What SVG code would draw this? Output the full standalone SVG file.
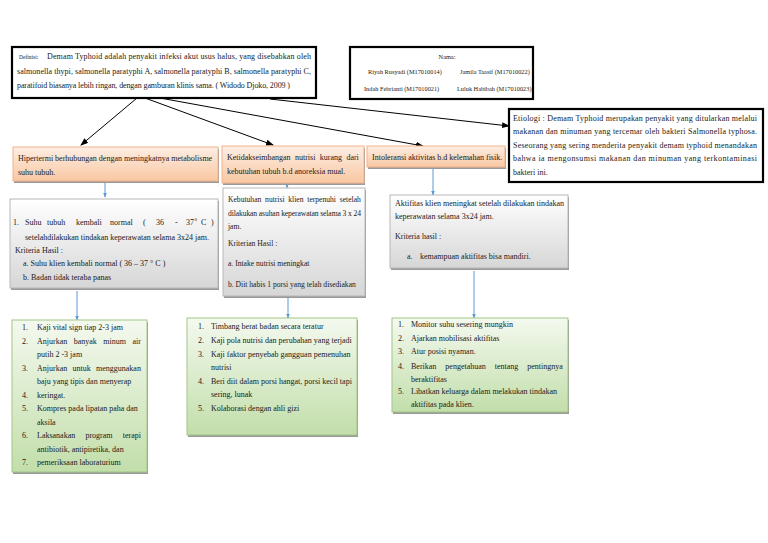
<svg xmlns="http://www.w3.org/2000/svg" width="768" height="543" viewBox="0 0 768 543">
<style>
text{font-family:"Liberation Serif","Times New Roman",serif;font-size:8px;fill:#1a1a1a}
.sm{font-size:6.3px}
.tiny{font-size:5.5px}
.mg{font-size:7.6px}
.bk{fill:#fff;stroke:#000;stroke-width:2.2}
.or{fill:url(#gOr);stroke:#f2b48c;stroke-width:1}
.gr{fill:url(#gGr);stroke:#b8b8b8;stroke-width:1}
.gn{fill:url(#gGn);stroke:#a3c585;stroke-width:1}
.sh{fill:#9a9a9a}
.con{stroke:#000;stroke-width:1;fill:none;marker-end:url(#ab)}
.blu{stroke:#5b9bd5;stroke-width:1;fill:none;marker-end:url(#abl)}
</style>
<defs>
<linearGradient id="gOr" x1="0" y1="0" x2="0" y2="1"><stop offset="0" stop-color="#fdeee4"/><stop offset="1" stop-color="#f9c7a2"/></linearGradient>
<linearGradient id="gGr" x1="0" y1="0" x2="0" y2="1"><stop offset="0" stop-color="#ffffff"/><stop offset="1" stop-color="#d6d6d6"/></linearGradient>
<linearGradient id="gGn" x1="0" y1="0" x2="0" y2="1"><stop offset="0" stop-color="#f4f9ef"/><stop offset="1" stop-color="#c2deaa"/></linearGradient>
<marker id="ab" markerWidth="8" markerHeight="6" refX="7" refY="3" orient="auto" markerUnits="userSpaceOnUse"><path d="M0,0 L8,3 L0,6 Z" fill="#000"/></marker>
<marker id="abl" markerWidth="5" markerHeight="4" refX="4.5" refY="2" orient="auto" markerUnits="userSpaceOnUse"><path d="M0,0 L5,2 L0,4 Z" fill="#5b9bd5"/></marker>
</defs>
<rect width="768" height="543" fill="#fff"/>

<g id="connectors">
<line class="con" x1="137" y1="98" x2="81" y2="145"/>
<line class="con" x1="145" y1="98" x2="273" y2="145"/>
<line class="con" x1="160" y1="98" x2="423" y2="146"/>
<line class="con" x1="270" y1="99" x2="509" y2="126"/>
<line class="blu" x1="105" y1="183" x2="105" y2="197"/>
<line class="blu" x1="287" y1="184" x2="287" y2="188"/>
<line class="blu" x1="433" y1="169" x2="433" y2="195"/>
<line class="blu" x1="77" y1="291" x2="77" y2="320"/>
<line class="blu" x1="288" y1="298" x2="288" y2="318"/>
<line class="blu" x1="474" y1="271" x2="474" y2="318"/>
</g>

<g id="definisi">
<rect class="bk" x="12" y="47" width="304" height="51"/>
<text class="tiny" x="19" y="58.5">Definisi:</text>
<text x="47" y="58.5" textLength="264" lengthAdjust="spacing">Demam Typhoid adalah penyakit infeksi akut usus halus, yang disebabkan oleh</text>
<text x="17" y="73.5" textLength="294" lengthAdjust="spacing">salmonella thypi, salmonella paratyphi A, salmonella paratyphi B, salmonella paratyphi C,</text>
<text x="17" y="88" textLength="273" lengthAdjust="spacing">paratifoid biasanya lebih ringan, dengan gamburan klinis sama. ( Widodo Djoko, 2009 )</text>
</g>

<g id="nama">
<rect class="bk" x="350" y="47" width="183" height="52"/>
<text class="sm" x="447" y="59" text-anchor="middle">Nama:</text>
<text class="sm" x="368" y="74">Riyah Rusyadi (M17010014)</text>
<text class="sm" x="460" y="74">Jamila Taasif (M17010022)</text>
<text class="sm" x="364" y="91">Indah Febrianti (M17010021)</text>
<text class="sm" x="457" y="91">Luluk Habibah (M17010023)</text>
</g>

<g id="etiologi">
<rect class="bk" x="509" y="109" width="254" height="73"/>
<text x="513" y="121" textLength="244" lengthAdjust="spacing">Etiologi : Demam Typhoid merupakan penyakit yang ditularkan melalui</text>
<text x="513" y="134" textLength="244" lengthAdjust="spacing">makanan dan minuman yang tercemar oleh bakteri Salmonella typhosa.</text>
<text x="513" y="147.5" textLength="244" lengthAdjust="spacing">Seseorang yang sering menderita penyakit demam typhoid menandakan</text>
<text x="513" y="161" textLength="244" lengthAdjust="spacing">bahwa ia mengonsumsi makanan dan minuman yang terkontaminasi</text>
<text x="513" y="174.5">bakteri ini.</text>
</g>

<g id="dx1">
<rect class="sh" x="14" y="149" width="205" height="34"/>
<rect class="or" x="13" y="147" width="205" height="34"/>
<text x="18" y="161">Hipertermi berhubungan dengan meningkatnya metabolisme</text>
<text x="18" y="175">suhu tubuh.</text>
</g>

<g id="dx2">
<rect class="sh" x="223" y="148" width="142" height="37"/>
<rect class="or" x="222" y="146" width="142" height="37"/>
<text x="227" y="160" word-spacing="2.4">Ketidakseimbangan nutrisi kurang dari</text>
<text x="227" y="174">kebutuhan tubuh b.d anoreksia mual.</text>
</g>

<g id="dx3">
<rect class="sh" x="368" y="148" width="138" height="21"/>
<rect class="or" x="367" y="146" width="138" height="21"/>
<text x="372" y="160">Intoleransi aktivitas b.d kelemahan fisik.</text>
</g>

<g id="tujuan1">
<rect class="sh" x="11" y="201" width="208" height="89"/>
<rect class="gr" x="10" y="199" width="208" height="89"/>
<text x="13" y="225">1.</text>
<text y="225"><tspan x="25">Suhu</tspan><tspan x="47">tubuh</tspan><tspan x="76">kembali</tspan><tspan x="110">normal</tspan><tspan x="143">(</tspan><tspan x="156">36</tspan><tspan x="175">-</tspan><tspan x="186">37</tspan><tspan x="194.5" y="221" font-size="5">0</tspan><tspan x="201" y="225">C</tspan><tspan x="211">)</tspan></text>
<text x="25" y="240">setelahdilakukan tindakan keperawatan selama 3x24 jam.</text>
<text x="15" y="253">Kriteria Hasil :</text>
<text x="23" y="266">a.  Suhu klien kembali normal ( 36 – 37 ° C )</text>
<text x="23" y="279.5">b.  Badan tidak teraba panas</text>
</g>

<g id="tujuan2">
<rect class="sh" x="224" y="190" width="142" height="108"/>
<rect class="gr" x="223" y="188" width="142" height="108"/>
<text class="mg" x="228" y="202" word-spacing="1.9">Kebutuhan nutrisi klien terpenuhi setelah</text>
<text class="mg" x="228" y="216" textLength="133" lengthAdjust="spacing">dilakukan asuhan keperawatan selama 3 x 24</text>
<text class="mg" x="228" y="229">jam.</text>
<text class="mg" x="228" y="246">Kriterian Hasil :</text>
<text class="mg" x="228" y="266">a. Intake nutrisi meningkat</text>
<text class="mg" x="228" y="287">b. Diit habis 1 porsi yang telah disediakan</text>
</g>

<g id="tujuan3">
<rect class="sh" x="391" y="197" width="178" height="73"/>
<rect class="gr" x="390" y="195" width="178" height="73"/>
<text x="395" y="206">Aktifitas klien meningkat setelah dilakukan tindakan</text>
<text x="395" y="219">keperawatan selama 3x24 jam.</text>
<text x="395" y="239">Kriteria hasil :</text>
<text x="407" y="259">a.</text>
<text x="420" y="259">kemampuan aktifitas bisa mandiri.</text>
</g>

<g id="intervensi1">
<rect class="sh" x="13" y="322" width="135" height="152"/>
<rect class="gn" x="12" y="320" width="135" height="152"/>
<text x="22" y="330">1.</text><text x="37" y="330">Kaji vital sign tiap 2-3 jam</text>
<text x="22" y="343.5">2.</text><text x="37" y="343.5" word-spacing="4.5">Anjurkan banyak minum air</text>
<text x="37" y="357">putih 2 -3 jam</text>
<text x="22" y="370.5">3.</text><text x="37" y="370.5" word-spacing="3.3">Anjurkan untuk menggunakan</text>
<text x="37" y="384">baju yang tipis dan menyerap</text>
<text x="22" y="397.5">4.</text><text x="37" y="397.5">keringat.</text>
<text x="22" y="411">5.</text><text x="37" y="411">Kompres pada lipatan paha dan</text>
<text x="37" y="424.5">aksila</text>
<text x="22" y="438">6.</text><text x="37" y="438" word-spacing="8.2">Laksanakan program terapi</text>
<text x="37" y="451.5">antibiotik, antipiretika, dan</text>
<text x="22" y="465">7.</text><text x="37" y="465">pemeriksaan laboraturium</text>
</g>

<g id="intervensi2">
<rect class="sh" x="188" y="320" width="170" height="117"/>
<rect class="gn" x="187" y="318" width="170" height="117"/>
<text x="198" y="329">1.</text><text x="211" y="329">Timbang berat badan secara teratur</text>
<text x="198" y="343">2.</text><text x="211" y="343">Kaji pola nutrisi dan perubahan yang terjadi</text>
<text x="198" y="357">3.</text><text x="211" y="357">Kaji faktor penyebab gangguan pemenuhan</text>
<text x="211" y="370">nutrisi</text>
<text x="198" y="384">4.</text><text x="211" y="384">Beri diit dalam porsi hangat, porsi kecil tapi</text>
<text x="211" y="397">sering, lunak</text>
<text x="198" y="411">5.</text><text x="211" y="411">Kolaborasi dengan ahli gizi</text>
</g>

<g id="intervensi3">
<rect class="sh" x="393" y="320" width="176" height="94"/>
<rect class="gn" x="392" y="318" width="176" height="94"/>
<text x="398" y="327">1.</text><text x="411" y="327">Monitor suhu sesering mungkin</text>
<text x="398" y="341">2.</text><text x="411" y="341">Ajarkan mobilisasi aktifitas</text>
<text x="398" y="354">3.</text><text x="411" y="354">Atur posisi nyaman.</text>
<text x="398" y="369">4.</text><text x="411" y="369" word-spacing="7">Berikan pengetahuan tentang pentingnya</text>
<text x="411" y="382">beraktifitas</text>
<text x="398" y="394">5.</text><text x="411" y="394">Libatkan keluarga dalam melakukan tindakan</text>
<text x="411" y="407">aktifitas pada klien.</text>
</g>
</svg>
